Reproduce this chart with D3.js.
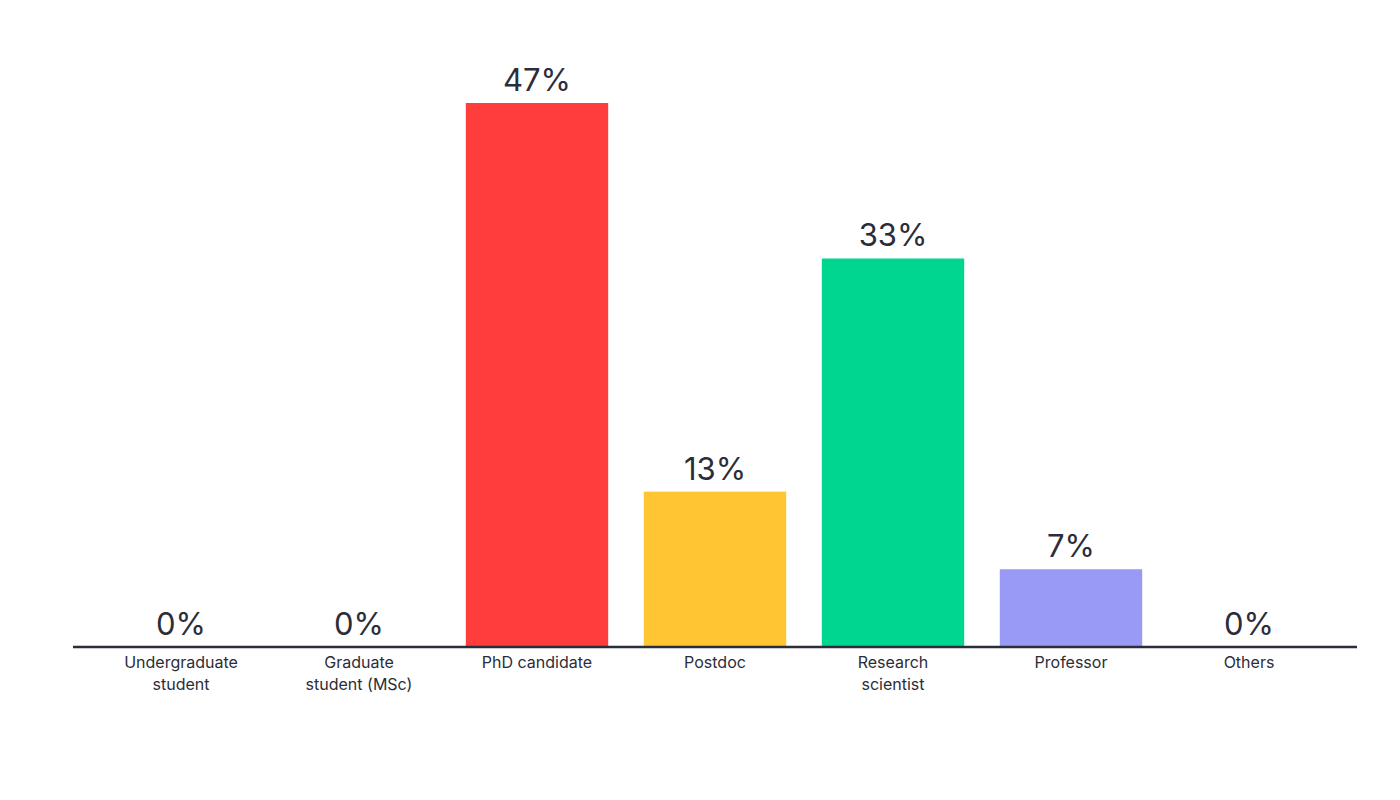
<!DOCTYPE html>
<html><head><meta charset="utf-8">
<script src="https://cdn.jsdelivr.net/npm/d3@7"></script>
<style>body{margin:0;background:#fff}</style></head>
<body><svg id="c" width="1400" height="800"></svg>
<script>
const categories = [["Undergraduate","student"],["Graduate","student (MSc)"],["PhD candidate"],["Postdoc"],["Research","scientist"],["Professor"],["Others"]];
const values = [0, 0, 46.67, 13.33, 33.33, 6.67, 0];
const valueLabels = ["0%","0%","47%","13%","33%","7%","0%"];
const colors = ["#ff3d3d","#ff3d3d","#ff3d3d","#ffc533","#00d68f","#999af5","#999af5"];

const svg = d3.select("#c");
const x = d3.scaleBand().domain(d3.range(categories.length)).range([92,1338]).paddingInner(0.2).paddingOuter(0.1);
const y = d3.scaleLinear().domain([0, 46.67]).range([647, 103]);
const font = "Inter, 'Noto Sans', sans-serif";

svg.selectAll("rect.bar").data(values).join("rect")
  .attr("x",(d,i)=>x(i)).attr("width",x.bandwidth())
  .attr("y",d=>y(d)).attr("height",d=>y(0)-y(d))
  .attr("fill",(d,i)=>colors[i]);

svg.selectAll("text.val").data(values).join("text")
  .attr("x",(d,i)=>x(i)+x.bandwidth()/2).attr("y",d=>y(d)-12)
  .attr("text-anchor","middle").attr("font-family",font).attr("font-size",31)
  .attr("fill","#2b2d3a").text((d,i)=>valueLabels[i]);

svg.append("line").attr("x1",73).attr("x2",1357).attr("y1",y(0)).attr("y2",y(0))
  .attr("stroke","#2b2d3a").attr("stroke-width",2.5);

const lab = svg.selectAll("text.cat").data(categories).join("text")
  .attr("text-anchor","middle").attr("font-family",font).attr("font-size",16).attr("fill","#2b2d3a");
lab.each(function(d,i){
  d3.select(this).selectAll("tspan").data(d).join("tspan")
    .attr("x",x(i)+x.bandwidth()/2).attr("y",(t,j)=>668+j*22).text(t=>t);
});
</script></body></html>
